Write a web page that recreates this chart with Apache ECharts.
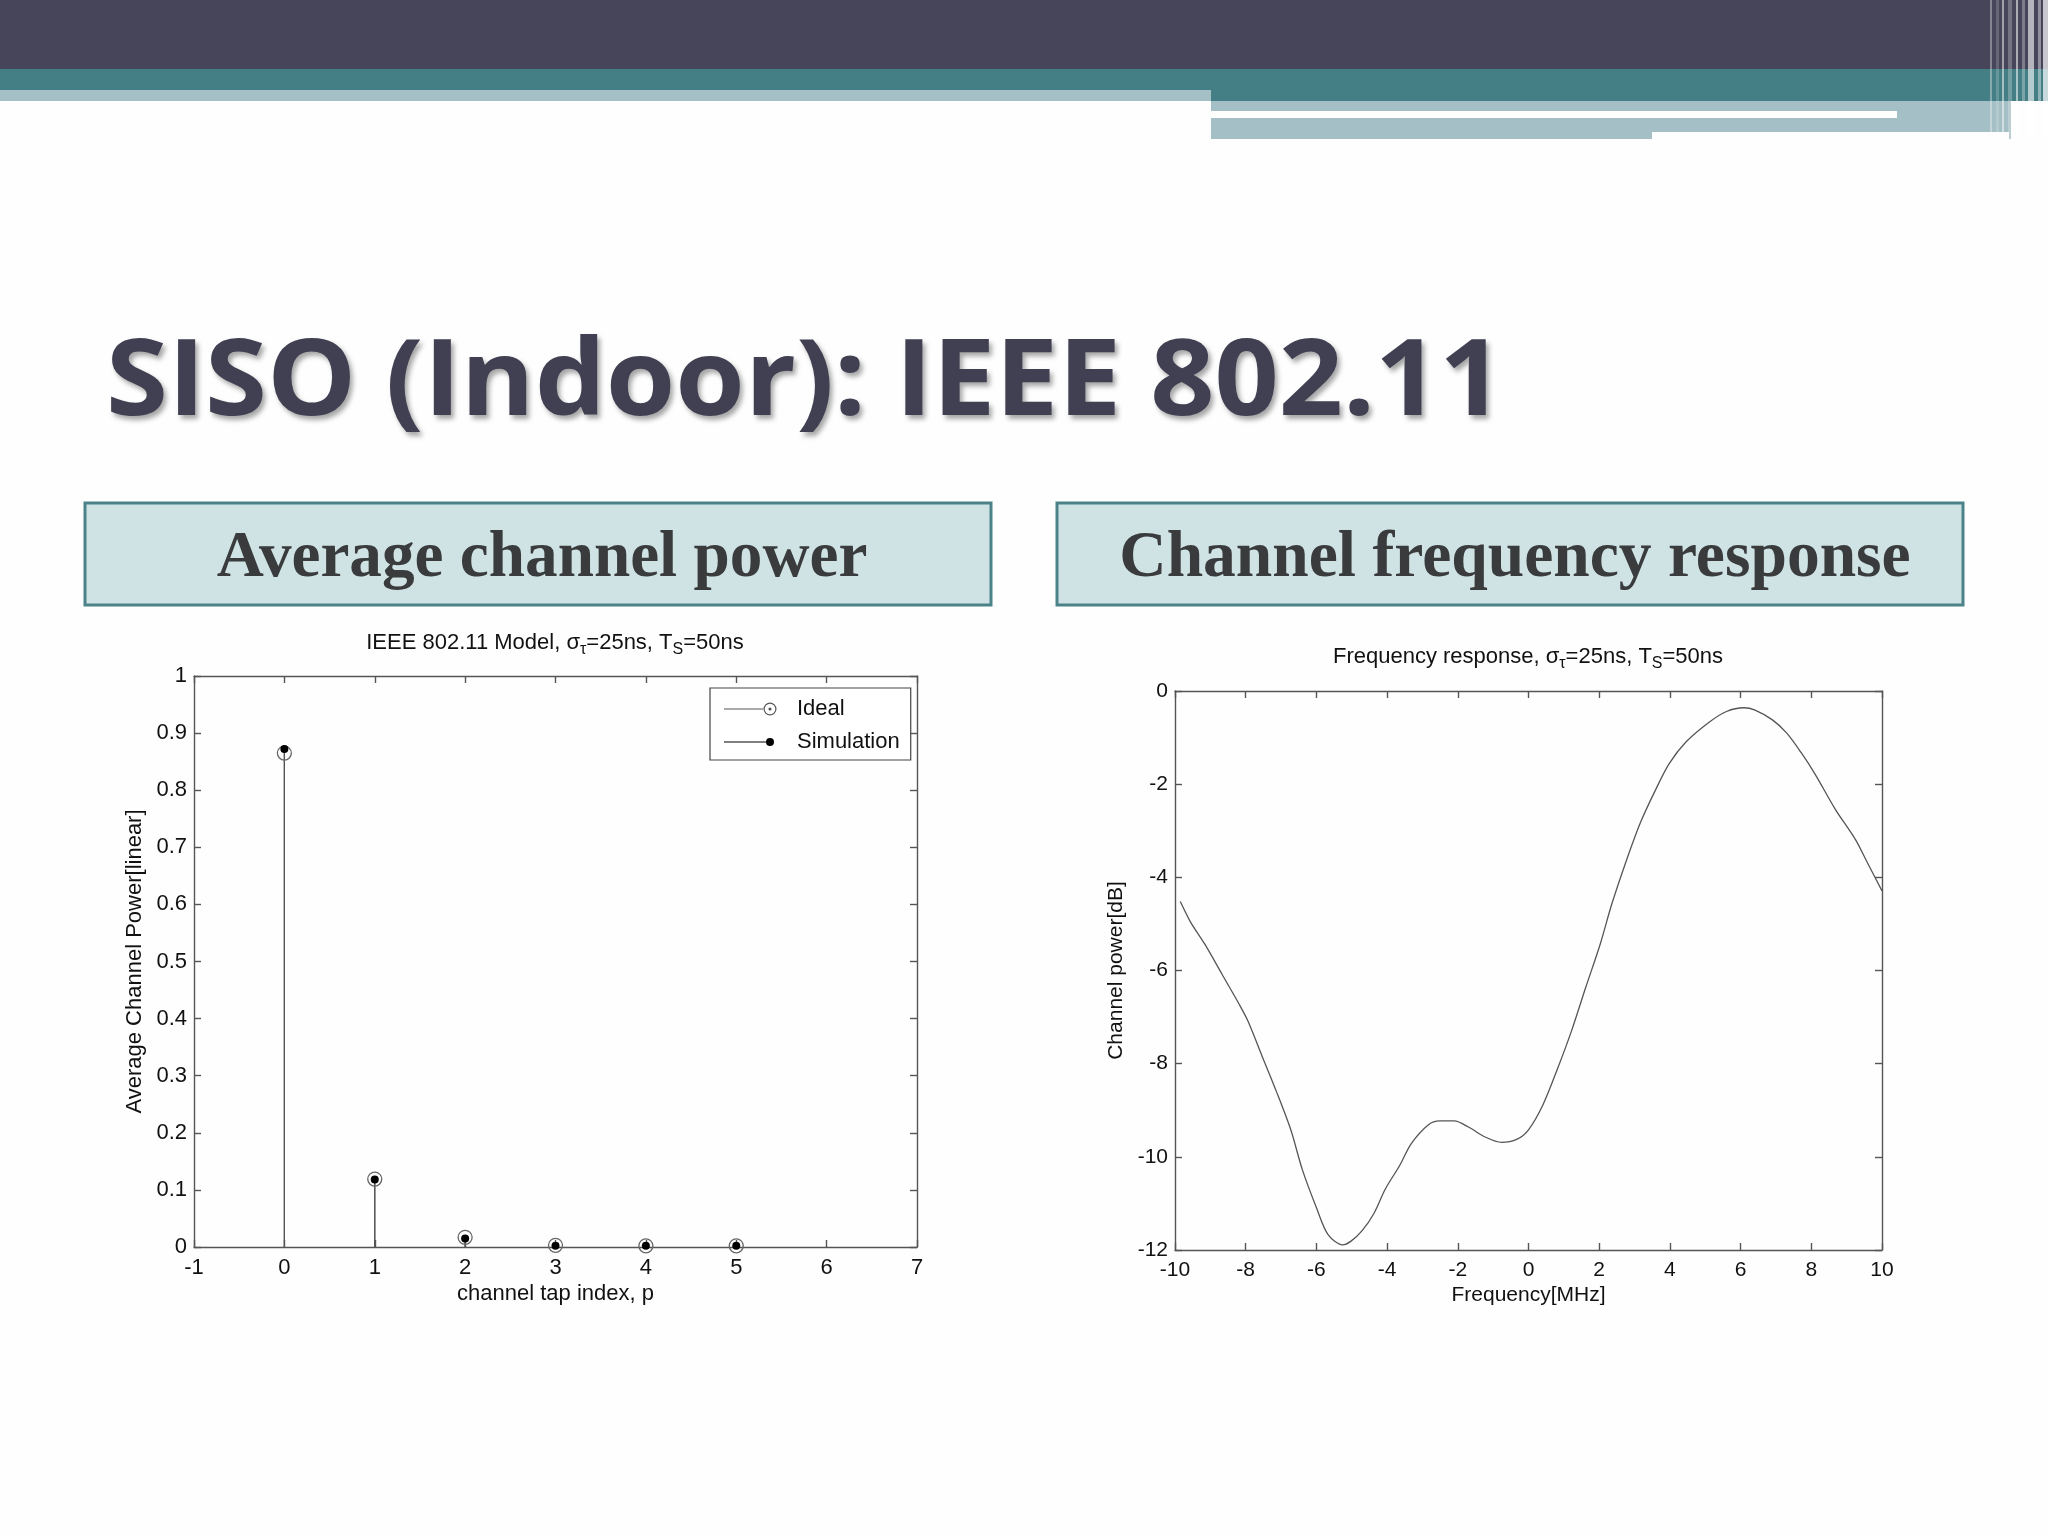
<!DOCTYPE html>
<html><head><meta charset="utf-8">
<script src="https://cdn.jsdelivr.net/npm/echarts@6/dist/echarts.min.js"></script>
<style>html,body{margin:0;padding:0;background:#fefefe}#c{width:2048px;height:1536px}</style>
</head><body><div id="c"></div>
<script>
// ---- data: Average channel power (stem plot) ----
const tapIndex = [0, 1, 2, 3, 4, 5];
const idealPower = [0.865, 0.119, 0.017, 0.003, 0.002, 0.002];
const simPower = [0.872, 0.118, 0.015, 0.002, 0.002, 0.002];
const tapTicks = [-1, 0, 1, 2, 3, 4, 5, 6, 7];
const powerTicks = [0, 0.1, 0.2, 0.3, 0.4, 0.5, 0.6, 0.7, 0.8, 0.9, 1];

// ---- data: Channel frequency response ----
const freqMHz = [-9.85,-9.56,-9.16,-8.67,-8.18,-7.94,-7.53,-7.13,-6.72,-6.40,-5.99,-5.67,-5.26,-5.02,-4.70,-4.37,-4.05,-3.64,-3.32,-2.83,-2.51,-2.10,-1.70,-1.21,-0.76,-0.32,0.00,0.41,0.81,1.22,1.62,2.03,2.35,2.76,3.17,3.57,3.98,4.46,5.11,5.60,6.09,6.41,6.90,7.30,7.71,8.11,8.68,9.25,9.57,10.0];
const powerDB = [-4.52,-4.96,-5.43,-6.08,-6.73,-7.08,-7.85,-8.60,-9.43,-10.27,-11.11,-11.67,-11.89,-11.81,-11.58,-11.21,-10.69,-10.18,-9.72,-9.31,-9.23,-9.23,-9.36,-9.58,-9.69,-9.62,-9.42,-8.88,-8.13,-7.29,-6.36,-5.43,-4.59,-3.66,-2.82,-2.16,-1.56,-1.09,-0.67,-0.44,-0.36,-0.41,-0.62,-0.90,-1.32,-1.79,-2.54,-3.19,-3.66,-4.29];
const freqTicks = [-10, -8, -6, -4, -2, 0, 2, 4, 6, 8, 10];
const dbTicks = [-12, -10, -8, -6, -4, -2, 0];

// ---- text ----
const slideTitle = 'SISO (Indoor): IEEE 802.11';
const leftHeading = 'Average channel power';
const rightHeading = 'Channel frequency response';

const FF = '"Liberation Sans", Arial, sans-serif';
const AX = '#555';
const lineSt = { color: AX, width: 1.4 };

function axisPair(ticks, isX, grid, labelMargin, name, nameGap, fs) {
  const min = ticks[0], max = ticks[ticks.length - 1], interval = ticks[1] - ticks[0];
  const main = {
    type: 'value', gridIndex: grid, min, max, interval,
    position: isX ? 'bottom' : 'left',
    axisLine: { show: true, onZero: false, lineStyle: lineSt },
    axisTick: { show: true, inside: true, length: 7, lineStyle: lineSt },
    splitLine: { show: false },
    axisLabel: { color: '#111', fontSize: fs, fontFamily: FF, margin: labelMargin,
      formatter: v => String(Math.round(v * 1000) / 1000) },
    name, nameLocation: 'middle', nameGap,
    nameTextStyle: { color: '#111', fontSize: fs, fontFamily: FF }
  };
  const mirror = {
    type: 'value', gridIndex: grid, min, max, interval,
    position: isX ? 'top' : 'right',
    axisLine: { show: true, onZero: false, lineStyle: lineSt },
    axisTick: { show: true, inside: true, length: 7, lineStyle: lineSt },
    splitLine: { show: false }, axisLabel: { show: false }
  };
  return [main, mirror];
}

const xAxes = [...axisPair(tapTicks, true, 0, 10, 'channel tap index, p', 36, 22),
               ...axisPair(freqTicks, true, 1, 10, 'Frequency[MHz]', 35, 21)];
const yAxes = [...axisPair(powerTicks, false, 0, 7, 'Average Channel Power[linear]', 48, 22),
               ...axisPair(dbTicks, false, 1, 7, 'Channel power[dB]', 48, 21)];

const richTitle = {
  n: { fontSize: 22, fontFamily: FF, fontWeight: 'normal', color: '#111', lineHeight: 30 },
  s: { fontSize: 16, fontFamily: FF, fontWeight: 'normal', color: '#111', lineHeight: 16, padding: [14, 0, 0, 0] }
};

// legend icons: line with marker at its right end (MATLAB style)
const iconIdeal = 'path://M0,0Z M68,14Z M0,6.4 L40,6.4 L40,7.6 L0,7.6 Z ' +
  'M39.5,7 A6.5,6.5 0 1 0 52.5,7 A6.5,6.5 0 1 0 39.5,7 Z ' +
  'M40.7,7 A5.3,5.3 0 1 1 51.3,7 A5.3,5.3 0 1 1 40.7,7 Z ' +
  'M44.4,7 A1.6,1.6 0 1 0 47.6,7 A1.6,1.6 0 1 0 44.4,7 Z';
const iconSim = 'path://M0,0Z M68,14Z M0,6.4 L42,6.4 L42,7.6 L0,7.6 Z ' +
  'M42,7 A4,4 0 1 0 50,7 A4,4 0 1 0 42,7 Z';

// header decoration
const header = [
  { type: 'rect', shape: { x: 0, y: 0, width: 2048, height: 69 }, style: { fill: '#464559' }, silent: true },
  { type: 'rect', shape: { x: 0, y: 69, width: 1211, height: 21 }, style: { fill: '#447f85' }, silent: true },
  { type: 'rect', shape: { x: 0, y: 90, width: 1211, height: 11 }, style: { fill: '#a4bfc5' }, silent: true },
  { type: 'rect', shape: { x: 1211, y: 69, width: 837, height: 32 }, style: { fill: '#447f85' }, silent: true },
  { type: 'rect', shape: { x: 1211, y: 101, width: 800, height: 38 }, style: { fill: '#a4bfc5' }, silent: true },
  { type: 'rect', shape: { x: 1211, y: 111, width: 686, height: 7 }, style: { fill: '#fefefe' }, silent: true },
  { type: 'rect', shape: { x: 1652, y: 132, width: 357, height: 8 }, style: { fill: '#fefefe' }, silent: true }
];
const stripes = [[1990,2,'rgba(255,255,255,0.35)'],[1996,3,'rgba(255,255,255,0.18)'],[2002,2,'rgba(255,255,255,0.5)'],[2008,4,'rgba(255,255,255,0.25)'],[2016,2,'rgba(255,255,255,0.55)'],[2022,3,'rgba(255,255,255,0.3)'],[2028,6,'rgba(255,255,255,0.6)'],[2038,3,'rgba(255,255,255,0.4)'],[2043,5,'rgba(255,255,255,0.7)']];
stripes.forEach(s => header.push({ type: 'rect', shape: { x: s[0], y: 0, width: s[1], height: 139 }, style: { fill: s[2] }, silent: true }));

const headingBoxes = [
  { type: 'rect', shape: { x: 85, y: 503, width: 906, height: 102 }, style: { fill: '#cfe3e5', stroke: '#4b8389', lineWidth: 3 }, silent: true },
  { type: 'rect', shape: { x: 1057, y: 503, width: 906, height: 102 }, style: { fill: '#cfe3e5', stroke: '#4b8389', lineWidth: 3 }, silent: true },
  { type: 'text', x: 542, y: 559, scaleX: 0.988, style: { text: leftHeading, font: 'bold 66px "Liberation Serif", serif', fill: '#3a3b3c', align: 'center', verticalAlign: 'middle' }, silent: true },
  { type: 'text', x: 1515, y: 559, scaleX: 0.993, style: { text: rightHeading, font: 'bold 66px "Liberation Serif", serif', fill: '#3a3b3c', align: 'center', verticalAlign: 'middle' }, silent: true },
  { type: 'text', x: 106, y: 385, scaleX: 1.07, style: { text: slideTitle, font: 'bold 105px "Open Sans", sans-serif', fill: '#404052', align: 'left', verticalAlign: 'middle',
      shadowColor: 'rgba(0,0,0,0.35)', shadowBlur: 5, shadowOffsetX: 3, shadowOffsetY: 4,
      textShadowColor: 'rgba(0,0,0,0.35)', textShadowBlur: 5, textShadowOffsetX: 3, textShadowOffsetY: 4 }, silent: true }
];

const chart = echarts.init(document.getElementById('c'), null, { renderer: 'canvas' });
chart.setOption({
  animation: false,
  backgroundColor: '#fefefe',
  graphic: [...header, ...headingBoxes],
  title: [
    { text: '{n|IEEE 802.11 Model, σ}{s|τ}{n|=25ns, T}{s|S}{n|=50ns}', left: 555, top: 628, textAlign: 'center', padding: 0,
      textStyle: { fontWeight: 'normal', rich: richTitle } },
    { text: '{n|Frequency response, σ}{s|τ}{n|=25ns, T}{s|S}{n|=50ns}', left: 1528, top: 642, textAlign: 'center', padding: 0,
      textStyle: { fontWeight: 'normal', rich: richTitle } }
  ],
  grid: [
    { left: 194, top: 676, width: 723, height: 571 },
    { left: 1175, top: 691, width: 707, height: 559 }
  ],
  xAxis: xAxes,
  yAxis: yAxes,
  legend: {
    data: [
      { name: 'Ideal', icon: iconIdeal, itemStyle: { color: '#555', borderWidth: 0, opacity: 1 } },
      { name: 'Simulation', icon: iconSim, itemStyle: { color: '#000', borderWidth: 0, opacity: 1 } }
    ],
    orient: 'vertical', left: 710, top: 688,
    padding: [10, 11, 7, 14], itemWidth: 68, itemHeight: 14, itemGap: 11,
    borderColor: '#444', borderWidth: 1.2, backgroundColor: '#fff',
    textStyle: { fontSize: 22, color: '#111', fontFamily: FF }
  },
  series: [
    { type: 'bar', name: 'IdealStem', xAxisIndex: 0, yAxisIndex: 0, barWidth: 1.2, barGap: '-100%',
      itemStyle: { color: '#555' }, data: tapIndex.map((x, i) => [x, idealPower[i]]), z: 1 },
    { type: 'bar', name: 'SimStem', xAxisIndex: 0, yAxisIndex: 0, barWidth: 1.2, barGap: '-100%',
      itemStyle: { color: '#555' }, data: tapIndex.map((x, i) => [x, simPower[i]]), z: 1 },
    { type: 'line', name: 'Ideal', xAxisIndex: 0, yAxisIndex: 0, symbol: 'circle', symbolSize: 14, showSymbol: true,
      lineStyle: { width: 0, opacity: 0 },
      itemStyle: { color: 'rgba(255,255,255,0)', borderColor: '#666', borderWidth: 1.3 },
      data: tapIndex.map((x, i) => [x, idealPower[i]]), z: 3 },
    { type: 'line', name: 'Simulation', xAxisIndex: 0, yAxisIndex: 0, symbol: 'circle', symbolSize: 8, showSymbol: true,
      lineStyle: { width: 0, opacity: 0 },
      itemStyle: { color: '#000', borderWidth: 0 },
      data: tapIndex.map((x, i) => [x, simPower[i]]), z: 4 },
    { type: 'line', name: 'Frequency response', xAxisIndex: 2, yAxisIndex: 2, showSymbol: false, smooth: 0.3,
      lineStyle: { color: '#555', width: 1.3 },
      data: freqMHz.map((f, i) => [f, powerDB[i]]) }
  ]
});
</script>
</body></html>
